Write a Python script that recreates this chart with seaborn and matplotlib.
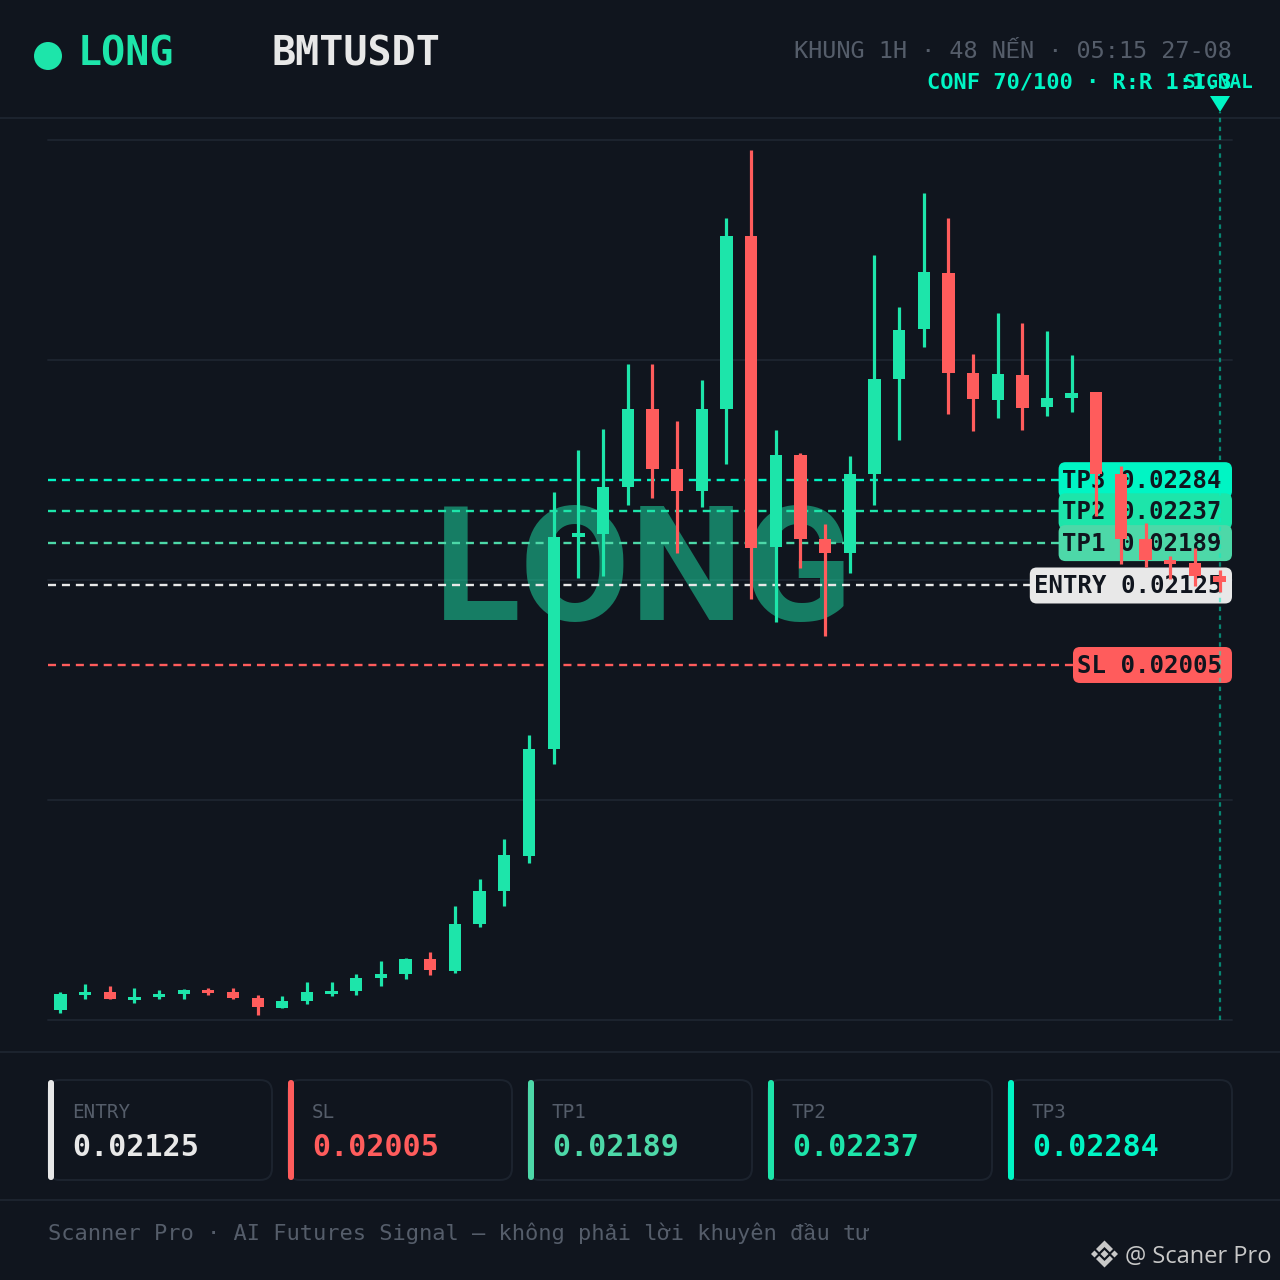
import numpy as np
import pandas as pd
import seaborn as sns
import matplotlib.pyplot as plt
from matplotlib.patches import FancyBboxPatch, Circle, Polygon

# candle values
opens = [0.014838, 0.015074, 0.015114, 0.014993, 0.015039, 0.015089, 0.015149, 0.015114,
         0.015028, 0.014877, 0.014979, 0.015089, 0.015134, 0.015330, 0.015386, 0.015617,
         0.015436, 0.016141, 0.016639, 0.017167, 0.018782, 0.021987, 0.022032, 0.022741,
         0.023919, 0.023013, 0.022672, 0.023919, 0.026525, 0.021831, 0.023215, 0.021952,
         0.021741, 0.022933, 0.024367, 0.025122, 0.025967, 0.024458, 0.024050, 0.024428,
         0.023949, 0.024076, 0.024166, 0.022933, 0.021952, 0.021635, 0.021594, 0.021394]
closes = [0.015084, 0.015119, 0.015013, 0.015039, 0.015089, 0.015149, 0.015104, 0.015028,
          0.014892, 0.014974, 0.015114, 0.015134, 0.015330, 0.015386, 0.015608, 0.015447,
          0.016141, 0.016639, 0.017182, 0.018782, 0.021982, 0.022038, 0.022732, 0.023919,
          0.023013, 0.022672, 0.023919, 0.026525, 0.021821, 0.023220, 0.021956, 0.021741,
          0.022929, 0.024367, 0.025107, 0.025982, 0.024458, 0.024065, 0.024442, 0.023929,
          0.024076, 0.024160, 0.022933, 0.021952, 0.021635, 0.021574, 0.021389, 0.021298]
highs = [0.015110, 0.015231, 0.015209, 0.015179, 0.015149, 0.015159, 0.015179, 0.015175,
         0.015064, 0.015050, 0.015270, 0.015270, 0.015382, 0.015582, 0.015623, 0.015714,
         0.016413, 0.016820, 0.017424, 0.018994, 0.022662, 0.023295, 0.023612, 0.024593,
         0.024593, 0.023733, 0.024347, 0.026797, 0.027824, 0.023602, 0.023245, 0.022179,
         0.023205, 0.026239, 0.025454, 0.027174, 0.026797, 0.024745, 0.025363, 0.025212,
         0.025091, 0.024730, 0.024171, 0.023054, 0.022189, 0.021700, 0.021812, 0.021484]
lows = [0.014802, 0.015009, 0.015004, 0.014944, 0.015013, 0.015004, 0.015064, 0.015004,
        0.014767, 0.014877, 0.014933, 0.015054, 0.015069, 0.015205, 0.015315, 0.015376,
        0.015406, 0.016091, 0.016413, 0.017062, 0.018556, 0.021368, 0.021389, 0.022461,
        0.022571, 0.021745, 0.022440, 0.023084, 0.021042, 0.020699, 0.021510, 0.020492,
        0.021443, 0.022465, 0.023446, 0.024850, 0.023839, 0.023582, 0.023778, 0.023597,
        0.023809, 0.023873, 0.022299, 0.021574, 0.021534, 0.021348, 0.021247, 0.021156]

level_names = ["TP3", "TP2", "TP1", "ENTRY", "SL"]
level_values = [0.02284, 0.02237, 0.02189, 0.02125, 0.02005]
card_names = ["ENTRY", "SL", "TP1", "TP2", "TP3"]
card_values = [0.02125, 0.02005, 0.02189, 0.02237, 0.02284]

BG = "#10151E"
GRID = "#1C232E"
GREEN = "#1DE5AA"
RED = "#FF5C5C"
CYAN = "#00F5C4"
TP1_COL = "#4DD8A8"
WHITE = "#E8E8E8"
MUTED = "#555D6A"
level_colors = {"TP3": CYAN, "TP2": GREEN, "TP1": TP1_COL, "ENTRY": WHITE, "SL": RED}
MONO = ["DejaVu Sans Mono", "Liberation Mono", "Noto Sans"]

sns.set_theme(style="darkgrid", rc={
    "figure.facecolor": BG, "axes.facecolor": "none", "grid.color": GRID,
    "grid.linewidth": 1.44, "axes.grid.axis": "y",
})
plt.rcParams["font.family"] = MONO

fig = plt.figure(figsize=(12.8, 12.8), dpi=100)

# background layer in pixel coordinates
pix = fig.add_axes([0, 0, 1, 1], zorder=0)
pix.set_xlim(0, 1280)
pix.set_ylim(1280, 0)
pix.axis("off")

# chart layer
ax = fig.add_axes([48 / 1280, 1 - 1020 / 1280, 1184 / 1280, 880 / 1280], zorder=1)

df = pd.DataFrame({"open": opens, "close": closes, "high": highs, "low": lows})
df["i"] = df.index
df["bottom"] = df[["open", "close"]].min(axis=1)
df["body"] = (df["close"] - df["open"]).abs()
up = df[df["close"] >= df["open"]]
down = df[df["close"] < df["open"]]

for part, col in [(up, GREEN), (down, RED)]:
    ax.vlines(part["i"], part["low"], part["high"], color=col, linewidth=2.3, zorder=6)
    sns.barplot(data=part, x="i", y="body", bottom=part["bottom"].values, native_scale=True,
                color=col, saturation=1, width=0.5, errorbar=None, linewidth=0, zorder=6, ax=ax)

y_lo, y_hi = 0.014691, 0.027975
ax.set_xlim(-0.5, 47.5)
ax.set_ylim(y_lo, y_hi)
ax.set_yticks(np.linspace(y_lo, y_hi, 5))
ax.set_xticks([])
ax.set_xlabel("")
ax.set_ylabel("")
ax.tick_params(length=0, labelleft=False)
for line in ax.get_ygridlines():
    line.set_clip_on(False)
for s in ax.spines.values():
    s.set_visible(False)
ax.set_axisbelow(True)

px_per_price = 880 / (y_hi - y_lo)


def price_y(p):
    return 1020 - (p - y_lo) * px_per_price


# big watermark
ax.text(643, 620, "LONG", transform=pix.transData, family="Roboto", weight="bold",
        fontsize=160 * 0.72, color=GREEN, alpha=0.5, ha="center", va="baseline", zorder=1.5)

# level lines and their tags
for name, val in zip(level_names, level_values):
    col = level_colors[name]
    txt = f"{name} {val:.5f}"
    left = 1232 - (len(txt) * 14.4 + 15)
    x_end = (left - 48) / (1184 / 48) - 0.5
    ax.hlines(val, -0.5, x_end, color=col, linewidth=1.7, linestyles=(0, (3.4, 2.5)), zorder=2)
    py = price_y(val)
    ax.add_patch(FancyBboxPatch((left, py - 18), 1232 - left, 36,
                                boxstyle="round,pad=0,rounding_size=7", facecolor=col,
                                edgecolor="none", transform=pix.transData, clip_on=False, zorder=3))
    ax.text(1222, py + 8, txt, transform=pix.transData, family=MONO, weight="bold",
            fontsize=24 * 0.72, color=BG, ha="right", va="baseline", zorder=3.5, clip_on=False)

# signal marker on the last candle
last = len(opens) - 1
ax.plot([last, last], [y_lo, y_hi + 28 / px_per_price], color=CYAN, alpha=0.5, linewidth=1.6,
        linestyle=(0, (2, 2)), clip_on=False, zorder=4.5)
pix.add_patch(Polygon([(1210, 96), (1230, 96), (1220, 112)], facecolor=CYAN, edgecolor="none"))

# header
for y in [118, 1052, 1200]:
    pix.plot([0, 1280], [y, y], color=GRID, linewidth=1.44)
pix.add_patch(Circle((48, 56), 14, facecolor=GREEN, edgecolor="none"))
pix.text(78, 66, "LONG", family=MONO, weight="bold", fontsize=40 * 0.72, color=GREEN, va="baseline")
pix.text(271, 66, "BMTUSDT", family=MONO, weight="bold", fontsize=40 * 0.72, color=WHITE, va="baseline")
pix.text(1232, 58, "KHUNG 1H · 48 NẾN · 05:15 27-08", family=MONO, fontsize=23.5 * 0.72,
         color=MUTED, ha="right", va="baseline")
pix.text(1232, 89, "CONF 70/100 · R:R 1:1.3", family=MONO, weight="bold", fontsize=22 * 0.72,
         color=CYAN, ha="right", va="baseline")
pix.text(1219, 88, "SIGNAL", family=MONO, weight="bold", fontsize=19.4 * 0.72, color=CYAN,
         ha="center", va="baseline", zorder=5)

# bottom cards
for k, (name, val) in enumerate(zip(card_names, card_values)):
    x0 = 48 + k * 240
    col = {"ENTRY": WHITE, "SL": RED, "TP1": TP1_COL, "TP2": GREEN, "TP3": CYAN}[name]
    pix.add_patch(FancyBboxPatch((x0, 1080), 224, 100, boxstyle="round,pad=0,rounding_size=12",
                                 facecolor=BG, edgecolor=GRID, linewidth=1.44))
    pix.add_patch(FancyBboxPatch((x0, 1080), 6, 100, boxstyle="round,pad=0,rounding_size=3",
                                 facecolor=col, edgecolor="none"))
    pix.text(x0 + 24, 1118, name, family=MONO, fontsize=19.3 * 0.72, color=MUTED, va="baseline")
    pix.text(x0 + 24, 1156, f"{val:.5f}", family=MONO, weight="bold", fontsize=30 * 0.72,
             color=col, va="baseline")

# footer
pix.text(48, 1240, "Scanner Pro · AI Futures Signal — không phải lời khuyên đầu tư", family=MONO,
         fontsize=22 * 0.72, color=MUTED, va="baseline")

# logo and handle
lx, ly = 1104.5, 1254
LOGO = "#C8C8C8"
logo_parts = [
    [(0, -4), (4, 0), (0, 4), (-4, 0)],
    [(-10, -3.5), (-6.5, 0), (-10, 3.5), (-13.5, 0)],
    [(10, -3.5), (13.5, 0), (10, 3.5), (6.5, 0)],
    [(0, -13.5), (8.5, -5), (5.3, -1.8), (0, -7), (-5.3, -1.8), (-8.5, -5)],
    [(0, 13.5), (8.5, 5), (5.3, 1.8), (0, 7), (-5.3, 1.8), (-8.5, 5)],
]
for part in logo_parts:
    pix.add_patch(Polygon([(lx + a, ly + b) for a, b in part], facecolor=LOGO, edgecolor="none"))
pix.text(1125, 1263, "@ Scaner Pro", family="Open Sans", fontsize=23.6 * 0.72, color=LOGO, va="baseline")

fig.savefig("out.png", dpi=100, facecolor=BG)
